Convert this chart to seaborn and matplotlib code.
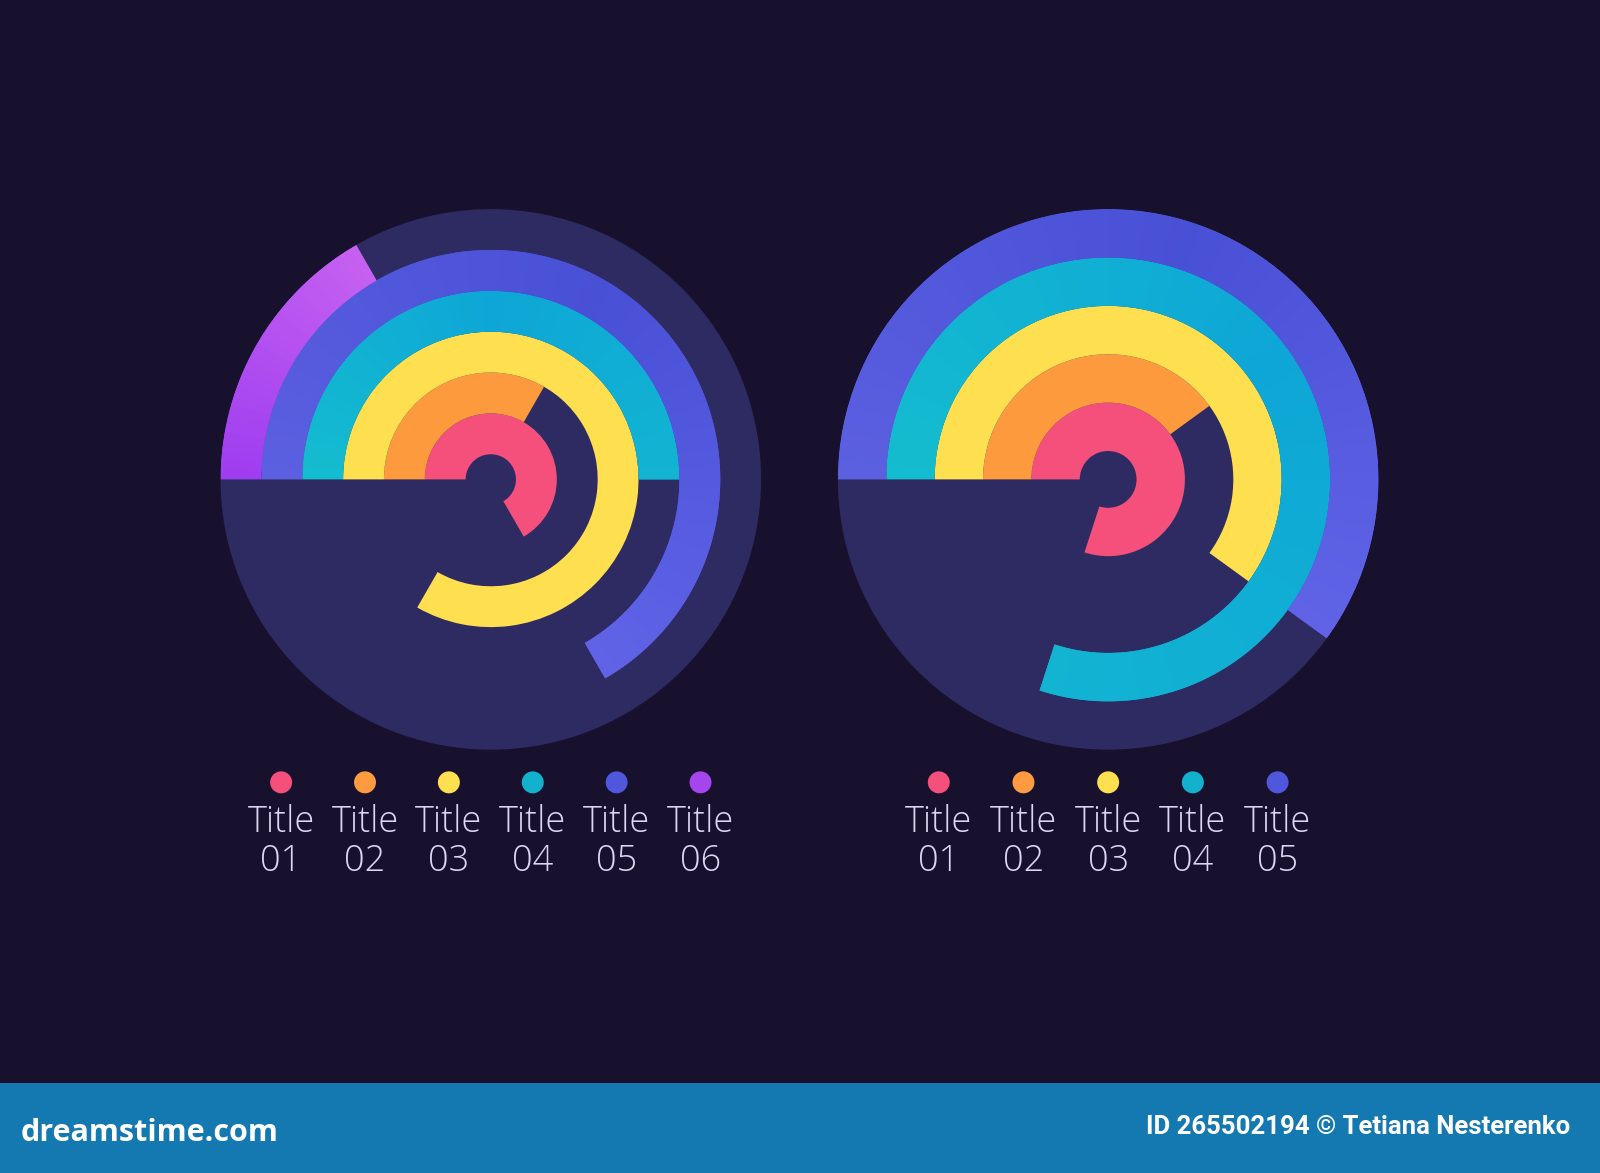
import numpy as np
import matplotlib
matplotlib.use("Agg")
import matplotlib.pyplot as plt
from matplotlib.colors import LinearSegmentedColormap
import seaborn as sns

# ring values, in percent of a full turn, inner ring first
labels_left = ["01", "02", "03", "04", "05", "06"]
values_left = [66.7, 33.3, 83.3, 50.0, 66.7, 16.7]
labels_right = ["01", "02", "03", "04", "05"]
values_right = [80.0, 40.0, 60.0, 80.0, 60.0]

palette = ["#f4507b", "#fe9b40", "#fedf4f", "#12b2ce", "#5157dc", "#a445ee"]
# colour stops along each arc (start -> end) for the soft gradients
shades = [
    ["#f4507b"],
    ["#fd9a3e"],
    ["#fedf4f"],
    ["#14bccf", "#0ea6d6", "#12b4d2"],
    ["#5b5fe0", "#4850d6", "#6063e6"],
    ["#9e3ef0", "#c560f0"],
]
BG = "#17112e"
DISK = "#2e2a62"
TEXT = "#dcd6ee"

W, H = 1568, 1150  # layout units (reference pixel grid)
CY = 470
R = 265

sns.set_theme(style="white")
plt.rcParams["font.family"] = ["Open Sans", "DejaVu Sans"]

fig = plt.figure(figsize=(16, 11.73), dpi=100)
fig.patch.set_facecolor(BG)

bg = fig.add_axes([0, 0, 1, 1])
bg.set_xlim(0, W)
bg.set_ylim(H, 0)
bg.set_facecolor(BG)
bg.axis("off")


def radial(cx, values, hole):
    ax = fig.add_axes(
        [(cx - R) / W, 1 - (CY + R) / H, 2 * R / W, 2 * R / H], projection="polar"
    )
    ax.set_facecolor(DISK)
    ax.set_theta_zero_location("W")
    ax.set_theta_direction(-1)
    ring = (1 - hole) / len(values)
    for i, v in enumerate(values):
        sweep = np.deg2rad(v * 3.6)
        r_mid = hole + ring * (i + 0.5)
        if len(shades[i]) == 1:
            ax.barh(r_mid, sweep, left=0, height=ring, color=shades[i][0],
                    linewidth=0, align="center")
            continue
        n = max(2, int(v * 3.6 / 2))
        edges = np.linspace(0, sweep, n + 1)
        step = edges[1] - edges[0]
        cmap = LinearSegmentedColormap.from_list(f"g{i}", shades[i])
        cols = [cmap(t) for t in np.linspace(0, 1, n)]
        # overlapping slices so no seams show between them
        widths = np.minimum(step * 2.0, sweep - edges[:-1])
        ax.barh(
            [r_mid] * n,
            widths,
            left=edges[:-1],
            height=ring,
            color=cols,
            linewidth=0,
            align="center",
        )
    ax.set_ylim(0, 1)
    ax.grid(False)
    ax.set_xticks([])
    ax.set_yticks([])
    ax.spines["polar"].set_visible(False)
    return ax


def legend(cx, labels, step):
    n = len(labels)
    xs = [cx + (i - (n - 1) / 2) * step for i in range(n)]
    sns.scatterplot(
        x=xs,
        y=[767] * n,
        hue=labels,
        palette=palette[:n],
        s=250,
        linewidth=0,
        legend=False,
        ax=bg,
    )
    for x, lab in zip(xs, labels):
        bg.text(x, 806, "Title", ha="center", va="center", color=TEXT,
                fontsize=26, fontweight="light")
        bg.text(x, 845, lab, ha="center", va="center", color=TEXT,
                fontsize=26, fontweight="light")


radial(481, values_left, 0.093)
radial(1086, values_right, 0.105)
legend(481, labels_left, 82.2)
legend(1086, labels_right, 83.0)

# footer banner
bg.axhspan(1062, H, color="#1479b0", lw=0)
bg.text(20, 1111, "dreamstime.com", ha="left", va="center", color="white",
        fontsize=22, fontweight="bold")
bg.text(1539, 1105, "ID 265502194 \u00a9 Tetiana Nesterenko", ha="right",
        va="center", color="white", fontsize=18.5, fontweight="bold",
        family=["Roboto", "DejaVu Sans"])
bg.set_xlim(0, W)
bg.set_ylim(H, 0)

fig.savefig("out.png", dpi=100, facecolor=BG)
